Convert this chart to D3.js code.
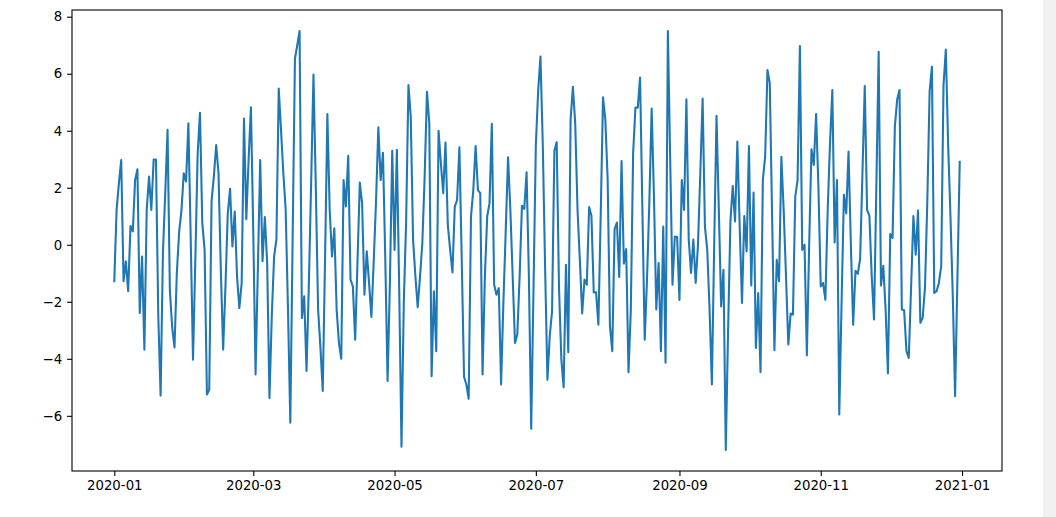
<!DOCTYPE html>
<html>
<head>
<meta charset="utf-8">
<script src="https://cdn.jsdelivr.net/npm/d3@7"></script>
<style>
  html, body { margin: 0; padding: 0; background: #ffffff; overflow: hidden; }
  svg { display: block; }
  text { font-family: "DejaVu Sans", sans-serif; }
</style>
</head>
<body>
<svg id="chart" width="1056" height="517"></svg>
<script>
// ---- data ----
const startDate = "2020-01-01";
const values = [
-1.28,1.22,2.16,2.97,-1.28,-0.58,-1.63,0.66,0.47,2.27,
2.65,-2.39,-0.41,-3.68,1.22,2.39,1.22,2.99,2.99,-2.5,
-5.29,-0.3,1.8,4.03,-1.6,-2.9,-3.6,-1.0,0.45,1.2,
2.51,2.22,4.26,0.2,-4.03,-0.5,3.2,4.63,0.76,-0.18,
-5.25,-5.08,1.52,2.4,3.5,2.51,-0.88,-3.68,-1.46,1.1,
1.96,-0.06,1.17,-1.11,-2.22,-1.34,4.43,0.9,3.0,4.82,
0.5,-4.55,-0.8,2.97,-0.58,0.97,-0.6,-5.37,-2.5,-0.41,
0.18,5.48,4.0,2.5,1.22,-2.28,-6.24,0.2,6.53,7.0,
7.5,-2.57,-1.81,-4.43,-1.4,2.2,5.97,2.04,-2.27,-3.6,
-5.13,-0.5,4.59,1.22,-0.41,0.58,-2.27,-3.45,-4.0,2.27,
1.34,3.12,-1.22,-1.46,-3.33,-0.6,2.18,1.46,-1.75,-0.23,
-1.34,-2.53,-0.6,1.5,4.12,2.27,3.23,-0.5,-4.78,-1.3,
3.3,-0.18,3.33,-1.5,-7.08,-2.0,0.8,5.6,4.49,0.18,
-1.11,-2.19,-1.11,0.06,2.39,5.37,4.26,-4.61,-1.63,-3.73,
4.0,2.86,1.81,3.59,0.7,-0.18,-0.97,1.34,1.57,3.42,
-0.5,-4.63,-4.9,-5.4,0.99,1.92,3.46,1.92,1.81,-4.55,
-1.1,0.99,1.46,4.24,-1.4,-1.75,-1.52,-4.9,-2.0,0.5,
3.07,1.22,-1.1,-3.44,-3.15,-1.11,1.37,1.26,2.54,-1.1,
-6.45,-1.5,3.5,5.4,6.6,3.5,-0.8,-4.73,-3.2,-2.33,
3.3,3.6,-1.5,-4.0,-5.0,-0.7,-3.77,4.38,5.54,4.26,
1.22,-0.53,-2.41,-1.22,-1.4,1.32,1.02,-1.67,-1.67,-2.8,
1.0,5.17,4.38,2.3,-2.86,-3.73,0.55,0.78,-1.13,2.94,
-0.66,-0.15,-4.47,-2.3,3.2,4.81,4.81,5.87,1.22,-3.33,
-1.2,1.5,4.78,1.69,-2.27,-0.64,-3.73,0.64,-4.14,7.5,
3.0,-1.4,0.29,0.27,-1.94,2.27,1.22,5.1,0.2,-0.99,
0.18,-1.34,0.0,2.5,5.13,0.64,-0.18,-2.27,-4.9,0.0,
4.52,1.22,-2.16,-0.88,-7.2,-3.0,0.8,2.06,0.82,3.62,
0.64,-2.04,1.01,-0.23,3.46,-1.43,1.83,-3.62,-1.69,-4.47,
2.27,3.09,6.13,5.66,1.0,-3.7,-0.53,-1.28,3.09,1.2,
-1.1,-3.5,-2.41,-2.45,1.69,2.27,6.97,-0.18,0.0,-3.88,
0.0,3.35,2.8,4.59,2.0,-1.46,-1.34,-1.93,1.22,3.56,
5.43,0.08,2.27,-5.95,-2.0,1.75,1.1,3.27,0.0,-2.8,
-0.91,-1.02,-0.5,2.5,5.57,1.22,1.02,-1.1,-2.62,2.0,
6.77,-1.43,-0.74,-2.27,-4.51,0.38,0.24,4.14,5.1,5.43,
-2.27,-2.3,-3.73,-3.97,-1.5,1.01,-0.35,1.2,-2.74,-2.57,
-1.5,1.5,5.37,6.24,-1.69,-1.63,-1.34,-0.76,5.6,6.85,
3.5,1.0,-1.8,-5.31,-1.2,2.91
];
const xTickDates = ["2020-01-01","2020-03-01","2020-05-01","2020-07-01","2020-09-01","2020-11-01","2021-01-01"];
const yTickValues = [-6,-4,-2,0,2,4,6,8];

// ---- build ----
const parse = d3.utcParse("%Y-%m-%d");
const t0 = parse(startDate);
const data = values.map((v, i) => ({ date: d3.utcDay.offset(t0, i), value: v }));

const svg = d3.select("#chart");
const W = 1056, H = 517;
const m = { left: 72, right: 1002, top: 10, bottom: 471 };

// matplotlib-style 5% margins
const xExt = d3.extent(data, d => +d.date);
const xPad = (xExt[1] - xExt[0]) * 0.05;
const yExt = d3.extent(data, d => d.value);
const yPad = (yExt[1] - yExt[0]) * 0.05;

const x = d3.scaleUtc().domain([new Date(xExt[0] - xPad), new Date(xExt[1] + xPad)]).range([m.left, m.right]);
const y = d3.scaleLinear().domain([yExt[0] - yPad, yExt[1] + yPad]).range([m.bottom, m.top]);

svg.append("rect").attr("x", 0).attr("y", 0).attr("width", W).attr("height", H).attr("fill", "#ffffff");
// right-hand scrollbar strip seen in the reference
svg.append("rect").attr("x", 1043).attr("y", 0).attr("width", 13).attr("height", H).attr("fill", "#f1f1f1");

svg.append("clipPath").attr("id", "clip")
  .append("rect").attr("x", m.left).attr("y", m.top)
  .attr("width", m.right - m.left).attr("height", m.bottom - m.top);

const line = d3.line().x(d => x(d.date)).y(d => y(d.value));
svg.append("path").datum(data)
  .attr("clip-path", "url(#clip)")
  .attr("fill", "none")
  .attr("stroke", "#1f77b4")
  .attr("stroke-width", 2.08)
  .attr("stroke-linejoin", "round")
  .attr("stroke-linecap", "square")
  .attr("d", line);

const fmtMinus = v => (v < 0 ? "\u2212" + Math.abs(v) : String(v));

const xAxis = d3.axisBottom(x)
  .tickValues(xTickDates.map(parse))
  .tickFormat(d3.utcFormat("%Y-%m"))
  .tickSize(4.9).tickPadding(4.9);
const gx = svg.append("g").attr("transform", `translate(0,${m.bottom})`).call(xAxis);

const yAxis = d3.axisLeft(y)
  .tickValues(yTickValues)
  .tickFormat(fmtMinus)
  .tickSize(4.9).tickPadding(4.9);
const gy = svg.append("g").attr("transform", `translate(${m.left},0)`).call(yAxis);

[gx, gy].forEach(g => {
  g.select(".domain").remove();
  g.selectAll(".tick line").attr("stroke", "#000").attr("stroke-width", 1.1);
  g.selectAll(".tick text").attr("fill", "#000").style("font-size", "13.3px").style("font-family", "DejaVu Sans, sans-serif");
});

// frame (spines)
svg.append("rect")
  .attr("x", m.left).attr("y", m.top)
  .attr("width", m.right - m.left).attr("height", m.bottom - m.top)
  .attr("fill", "none").attr("stroke", "#000").attr("stroke-width", 1.1);
</script>
</body>
</html>
